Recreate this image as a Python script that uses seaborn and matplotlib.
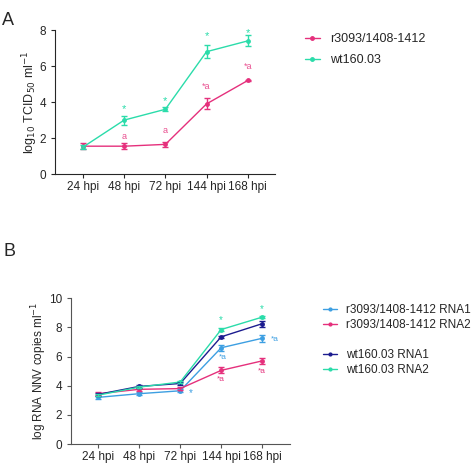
import numpy as np
import pandas as pd
import matplotlib
matplotlib.use("Agg")
import matplotlib.pyplot as plt
import seaborn as sns
from matplotlib.lines import Line2D

# data
times = ["24 hpi", "48 hpi", "72 hpi", "144 hpi", "168 hpi"]

a_rec = [1.55, 1.55, 1.65, 3.9, 5.2]
a_rec_err = [0.15, 0.15, 0.15, 0.3, 0.05]
a_wt = [1.5, 3.0, 3.6, 6.8, 7.4]
a_wt_err = [0.1, 0.25, 0.12, 0.35, 0.3]

b_rec1 = [3.2, 3.45, 3.65, 6.6, 7.25]
b_rec1_err = [0.1, 0.1, 0.1, 0.2, 0.25]
b_rec2 = [3.45, 3.75, 3.8, 5.05, 5.7]
b_rec2_err = [0.1, 0.1, 0.1, 0.2, 0.2]
b_wt1 = [3.4, 3.95, 4.15, 7.35, 8.25]
b_wt1_err = [0.1, 0.08, 0.1, 0.08, 0.2]
b_wt2 = [3.35, 3.9, 4.25, 7.85, 8.7]
b_wt2_err = [0.05, 0.05, 0.08, 0.08, 0.08]

pink = "#e5307c"
green = "#2bdcaa"
navy = "#1c1c8f"
lblue = "#3d9fe2"

sns.set_style("ticks")
plt.rcParams["font.family"] = ["Liberation Sans", "DejaVu Sans"]

fig = plt.figure(figsize=(4.74, 4.63), dpi=100)
ax_a = fig.add_axes([0.116, 0.624, 0.464, 0.311])
ax_b = fig.add_axes([0.150, 0.041, 0.462, 0.315])


def draw(ax, series, errs, names, colors):
    df = pd.concat([pd.DataFrame({"time": times, "value": s, "group": n})
                    for s, n in zip(series, names)])
    sns.lineplot(data=df, x="time", y="value", hue="group", hue_order=names,
                 palette=dict(zip(names, colors)), marker="o", markersize=3.5,
                 markeredgewidth=0, linewidth=1.0, ax=ax, legend=False, sort=False)
    for s, e, c in zip(series, errs, colors):
        ax.errorbar(np.arange(len(times)), s, yerr=e, fmt="none", ecolor=c,
                    elinewidth=1, capsize=2, capthick=1)


# panel A
draw(ax_a, [a_rec, a_wt], [a_rec_err, a_wt_err],
     ["r3093/1408-1412", "wt160.03"], [pink, green])
ax_a.set_xlim(-0.68, 4.66)
ax_a.set_ylim(0, 8)
ax_a.set_yticks([0, 2, 4, 6, 8])
ax_a.set_xlabel("")
ax_a.set_ylabel("log$_{10}$ TCID$_{50}$ ml$^{-1}$", fontsize=9)
ax_a.yaxis.set_label_coords(-0.07, 0.5)
for i, y in [(1, 3.45), (2, 3.9), (3, 7.5), (4, 7.65)]:
    ax_a.text(i, y, "*", color=green, ha="center", fontsize=8)
for i, y, t in [(1, 1.95, "a"), (2, 2.3, "a"), (3, 4.7, "*a"), (4, 5.85, "*a")]:
    ax_a.text(i, y, t, color=pink, ha="center", fontsize=6.5, alpha=0.85)
ax_a.legend(handles=[Line2D([], [], color=pink, marker="o", markersize=2.5, lw=1),
                     Line2D([], [], color=green, marker="o", markersize=2.5, lw=1)],
            labels=["r3093/1408-1412", "wt160.03"], loc="upper left",
            bbox_to_anchor=(1.085, 1.055), frameon=False, fontsize=9,
            handlelength=1.2, labelspacing=0.7)

# panel B
draw(ax_b, [b_rec1, b_rec2, b_wt1, b_wt2],
     [b_rec1_err, b_rec2_err, b_wt1_err, b_wt2_err],
     ["r3093/1408-1412 RNA1", "r3093/1408-1412 RNA2", "wt160.03 RNA1", "wt160.03 RNA2"],
     [lblue, pink, navy, green])
ax_b.set_xlim(-0.66, 4.68)
ax_b.set_ylim(0, 10)
ax_b.set_yticks([0, 2, 4, 6, 8, 10])
ax_b.set_xlabel("")
ax_b.set_ylabel("log RNA NNV copies ml$^{-1}$", fontsize=8.5)
ax_b.yaxis.set_label_coords(-0.1, 0.5)
for sp in ["left", "bottom"]:
    ax_b.spines[sp].set_color("#555555")
ax_b.tick_params(color="#555555")
ax_b.text(2.25, 3.3, "*", color=lblue, ha="center", fontsize=7)
for i, y in [(3, 8.3), (4, 9.05)]:
    ax_b.text(i, y, "*", color=green, ha="center", fontsize=7)
ax_b.text(3.05, 5.85, "*a", color=lblue, ha="center", fontsize=6)
ax_b.text(4.3, 7.05, "*a", color=lblue, ha="center", fontsize=6)
ax_b.text(3.0, 4.3, "*a", color=pink, ha="center", fontsize=6)
ax_b.text(4.0, 4.85, "*a", color=pink, ha="center", fontsize=6)
hb = [Line2D([], [], color=c, marker="o", markersize=2, lw=1) for c in [lblue, pink]]
hb += [Line2D([], [], color="none")]
hb += [Line2D([], [], color=c, marker="o", markersize=2, lw=1) for c in [navy, green]]
ax_b.legend(handles=hb,
            labels=["r3093/1408-1412 RNA1", "r3093/1408-1412 RNA2", "",
                    "wt160.03 RNA1", "wt160.03 RNA2"],
            loc="upper left", bbox_to_anchor=(1.10, 1.03), frameon=False,
            fontsize=8.5, handlelength=1.2, labelspacing=0.25)

for ax in [ax_a, ax_b]:
    ax.tick_params(labelsize=8.5, length=3)
    ax.tick_params(axis="x", pad=2)
    sns.despine(ax=ax)

fig.text(0.004, 0.975, "A", fontsize=13, va="top")
fig.text(0.008, 0.475, "B", fontsize=13, va="top")

fig.savefig("out.png", dpi=100)
